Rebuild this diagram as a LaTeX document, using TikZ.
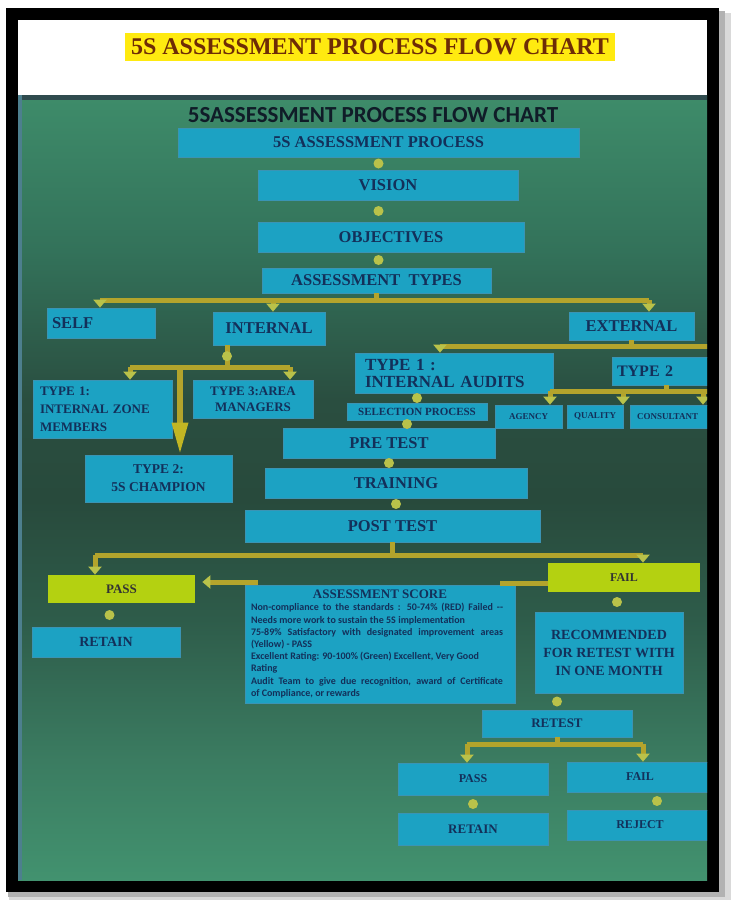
\documentclass[tikz,border=0pt]{standalone}
\usepackage{fontspec}
\setmainfont{Liberation Serif}
\newfontfamily\calib{Carlito}
\usetikzlibrary{arrows.meta,calc}
\definecolor{boxfill}{HTML}{1CA2C3}
\definecolor{boxedge}{HTML}{3A94B4}
\definecolor{navy}{HTML}{13305A}
\definecolor{connc}{HTML}{B3A42C}
\definecolor{blobc}{HTML}{B9C24A}
\definecolor{passc}{HTML}{B4D111}
\definecolor{titlec}{HTML}{6E2C06}
\definecolor{hlc}{HTML}{FFEA10}
\definecolor{subc}{HTML}{101C28}
\definecolor{g1}{HTML}{3E8C6A}
\definecolor{g2}{HTML}{33725A}
\definecolor{g3}{HTML}{2A4E40}
\definecolor{g4}{HTML}{284A3C}
\definecolor{g5}{HTML}{2E5C4A}
\definecolor{g6}{HTML}{3B7C61}
\definecolor{g7}{HTML}{42926F}
\definecolor{topstrip}{HTML}{2F4B4E}
\definecolor{leftline}{HTML}{4D7F8E}
\pgfdeclareverticalshading{panelshade}{100bp}{color(0bp)=(g7); color(25bp)=(g7); color(32.6bp)=(g6); color(41.6bp)=(g5); color(49.2bp)=(g4); color(55.6bp)=(g3); color(65.1bp)=(g2); color(75bp)=(g1); color(100bp)=(g1)}
\newcommand\fs[2]{\fontsize{#1}{#2}\selectfont}
\newcommand\sline[2]{\makebox[#1][s]{#2}}
\newcommand\mkbox[7][]{\node[box,#1,minimum width={(#5-#3)*1pt},minimum height={(#6-#4)*1pt}] (#2) at ({(#3+#5)/2},{(#4+#6)/2}) {#7};}
\begin{document}
\begin{tikzpicture}[x=1pt,y=-1pt,
  box/.style={draw=boxedge,line width=0.7pt,fill=boxfill,text=navy,inner sep=2pt,align=center,font=\bfseries\fs{16.5}{19}},
  passbox/.style={fill=passc,draw=none,text=black!80},
  conn/.style={draw=connc,line width=5pt},
  tipd/.style={-{Triangle[width=13pt,length=8pt,color=blobc]}},
  bigarrow/.style={conn,line width=6pt,-{Triangle[width=15pt,length=32pt,color=connc!80!yellow]}},
  blob/.style={circle,fill=blobc,inner sep=0pt,minimum size=10pt}]
\useasboundingbox (0,0) rectangle (732,900);
\fill[gray!30] (9,13) rectangle (731,900);
\fill[gray!60] (8,11) rectangle (725,897);
\fill[black] (6,8) rectangle (719,892);
\fill[white] (18,20) rectangle (707,880);
\node[fill=hlc,text=titlec,font=\bfseries\fs{24}{26},minimum width=490pt,minimum height=28pt,inner sep=0pt] (title) at (370,47) {5S ASSESSMENT PROCESS FLOW CHART};
\begin{scope}
\clip (18,95) rectangle (707,880);
\shade[shading=panelshade] (18,95) rectangle (707,880);
\fill[topstrip] (18,95) rectangle (707,100);
\fill[leftline] (18,95) rectangle (22,880);
\node[font=\calib\bfseries\fs{23}{25},text=subc,inner sep=0pt] (sub) at (373,115) {5SASSESSMENT PROCESS FLOW CHART};
% boxes
\mkbox{proc}{178}{128}{579}{157}{5S ASSESSMENT PROCESS}
\mkbox{vision}{258}{170}{518}{200}{VISION}
\mkbox{obj}{258}{222}{524}{252}{OBJECTIVES}
\mkbox{types}{262}{268}{491}{293}{ASSESSMENT\ \ TYPES}
\mkbox[align=left,text width=98pt]{self}{47}{308}{155}{338}{SELF}
\mkbox{internal}{213}{312}{325}{345}{INTERNAL}
\mkbox{external}{569}{312}{694}{340}{EXTERNAL}
\mkbox[align=left,text width=125pt,font=\bfseries\fs{13}{18}]{zone}{33}{380}{172}{438}{TYPE 1:\\INTERNAL ZONE\\MEMBERS}
\mkbox[font=\bfseries\fs{13}{16}]{area}{193}{380}{313}{418}{TYPE 3:AREA\\MANAGERS}
\mkbox[font=\bfseries\fs{13.5}{18}]{champ}{85}{455}{232}{502}{TYPE 2:\\5S CHAMPION}
\mkbox[align=left,text width=178pt,font=\bfseries\fs{17}{17}]{audits}{355}{353}{553}{393}{TYPE 1 :\\INTERNAL AUDITS}
\mkbox[align=left,text width=98pt,font=\bfseries\fs{16}{18}]{type2}{612}{357}{720}{385}{TYPE 2}
\mkbox[font=\bfseries\fs{11}{12}]{sel}{347}{403}{487}{420}{SELECTION PROCESS}
\mkbox[font=\bfseries\fs{9}{10}]{agency}{495}{405}{562}{428}{AGENCY}
\mkbox[font=\bfseries\fs{9}{10}]{quality}{567}{405}{623}{428}{QUALITY}
\mkbox[align=left,text width=86pt,font=\bfseries\fs{9}{10}]{consult}{630}{405}{730}{428}{CONSULTANT}
\mkbox{pre}{283}{428}{495}{458}{PRE TEST}
\mkbox{train}{265}{468}{527}{498}{TRAINING}
\mkbox{post}{245}{510}{540}{542}{POST TEST}
\mkbox[passbox,font=\bfseries\fs{13}{15}]{pass}{48}{575}{195}{603}{PASS}
\mkbox[font=\bfseries\fs{14}{16}]{retain}{32}{627}{180}{657}{RETAIN}
\mkbox[align=left,font=\calib\bfseries\fs{10}{12.2}]{score}{245}{585}{515}{703}{\makebox[258pt][c]{\rmfamily\fs{13}{15}ASSESSMENT SCORE}\\
\sline{252pt}{Non-compliance to the standards : 50-74\% (RED) Failed --}\\
\sline{214pt}{Needs more work to sustain the 5S implementation}\\
\sline{252pt}{75-89\% Satisfactory with designated improvement areas}\\
(Yellow) - PASS\\
\sline{228pt}{Excellent Rating: 90-100\% (Green) Excellent, Very Good}\\
Rating\\
\sline{252pt}{Audit Team to give due recognition, award of Certificate}\\
of Compliance, or rewards}
\mkbox[passbox,font=\bfseries\fs{12}{14}]{fail}{548}{563}{700}{592}{FAIL}
\mkbox[font=\bfseries\fs{14}{18}]{rec}{535}{612}{683}{693}{RECOMMENDED\\FOR RETEST WITH\\IN ONE MONTH}
\mkbox[font=\bfseries\fs{13}{15}]{retest}{482}{710}{632}{737}{RETEST}
\mkbox[font=\bfseries\fs{12}{14}]{pass2}{398}{763}{548}{795}{PASS}
\mkbox[font=\bfseries\fs{12}{14}]{fail2}{567}{762}{713}{792}{FAIL}
\mkbox[font=\bfseries\fs{13}{15}]{retain2}{398}{813}{548}{845}{RETAIN}
\mkbox[font=\bfseries\fs{12}{14}]{reject}{567}{810}{713}{840}{REJECT}
% top chain
\path (proc.south) -- node[blob]{} (proc.south |- vision.north);
\path (proc.south |- vision.south) -- node[blob]{} (proc.south |- obj.north);
\path (proc.south |- obj.south) -- node[blob]{} (proc.south |- types.north);
% branch to self/internal/external
\coordinate (bl) at (100,300);
\coordinate (bm) at (273,300);
\coordinate (br) at (649,300);
\draw[conn] (types.south) -- (types.south |- bl);
\draw[conn] (bl) -- (br);
\draw[conn,tipd] (bl) -- (bl |- self.north);
\draw[conn,tipd] (bm) -- (bm |- internal.north);
\draw[conn,tipd] (br) -- (br |- external.north);
% internal branch
\coordinate (il) at (130,367);
\coordinate (ir) at (290,367);
\coordinate (ic) at (180,367);
\coordinate (it) at (227,367);
\draw[conn] (it |- internal.south) -- node[blob]{} (it);
\draw[conn] (il) -- (ir);
\draw[conn,tipd] (il) -- (il |- zone.north);
\draw[conn,tipd] (ir) -- (ir |- area.north);
\draw[bigarrow] (ic) -- (ic |- champ.north);
% external branch
\coordinate (el) at (440,346);
\coordinate (er) at (720,346);
\draw[conn] (external.south) -- (external.south |- el);
\draw[conn] (el) -- (er);
\draw[conn,tipd] (el) -- (el |- audits.north);
\draw[conn,tipd] (er) -- (er |- type2.north);
% type 2 branch
\coordinate (tl) at (550,391);
\coordinate (tq) at (623,391);
\coordinate (tc) at (703,391);
\coordinate (tr) at (720,391);
\draw[conn] (type2.south) -- (type2.south |- tl);
\draw[conn] (tl) -- (tr);
\draw[conn,tipd] (tl) -- (tl |- agency.north);
\draw[conn,tipd] (tq) -- (tq |- quality.north);
\draw[conn,tipd] (tc) -- (tc |- consult.north);
% internal audits chain
\path (sel.north) -- node[blob]{} (sel.north |- audits.south);
\path ($(sel.south)+(-10,0)$) -- node[blob]{} ($(sel.south |- pre.north)+(-10,0)$);
\path (pre.south) -- node[blob]{} (pre.south |- train.north);
\path (train.south) -- node[blob]{} (train.south |- post.north);
% post test branch
\coordinate (pl) at (95,555);
\coordinate (pr) at (643,555);
\draw[conn] (post.south) -- (post.south |- pl);
\draw[conn] (pl) -- (pr);
\draw[conn,tipd] (pl) -- (pl |- pass.north);
\draw[conn,tipd] (pr) -- (pr |- fail.north);
\draw[conn,tipd] ($(score.west |- pass.east)+(13,-7)$) -- ($(pass.east)+(7,-7)$);
\draw[conn] ($(score.east |- fail.west)+(-15,5.5)$) -- ($(fail.west)+(0,5.5)$);
\path ($(pass.south)+(-12,0)$) -- node[blob]{} ($(pass.south |- retain.north)+(-12,0)$);
% fail chain
\path ($(fail.south)+(-7,0)$) -- node[blob]{} ($(fail.south |- rec.north)+(-7,0)$);
\path (retest.north) -- node[blob]{} (retest.north |- rec.south);
\coordinate (rl) at (467,744);
\coordinate (rr) at (643,744);
\draw[conn] (retest.south) -- (retest.south |- rl);
\draw[conn] (rl) -- (rr);
\draw[conn,tipd] (rl) -- (rl |- pass2.north);
\draw[conn,tipd] (rr) -- (rr |- fail2.north);
\path (pass2.south) -- node[blob]{} (pass2.south |- retain2.north);
\path ($(fail2.south)+(17,0)$) -- node[blob]{} ($(fail2.south |- reject.north)+(17,0)$);
\end{scope}
\end{tikzpicture}
\end{document}
